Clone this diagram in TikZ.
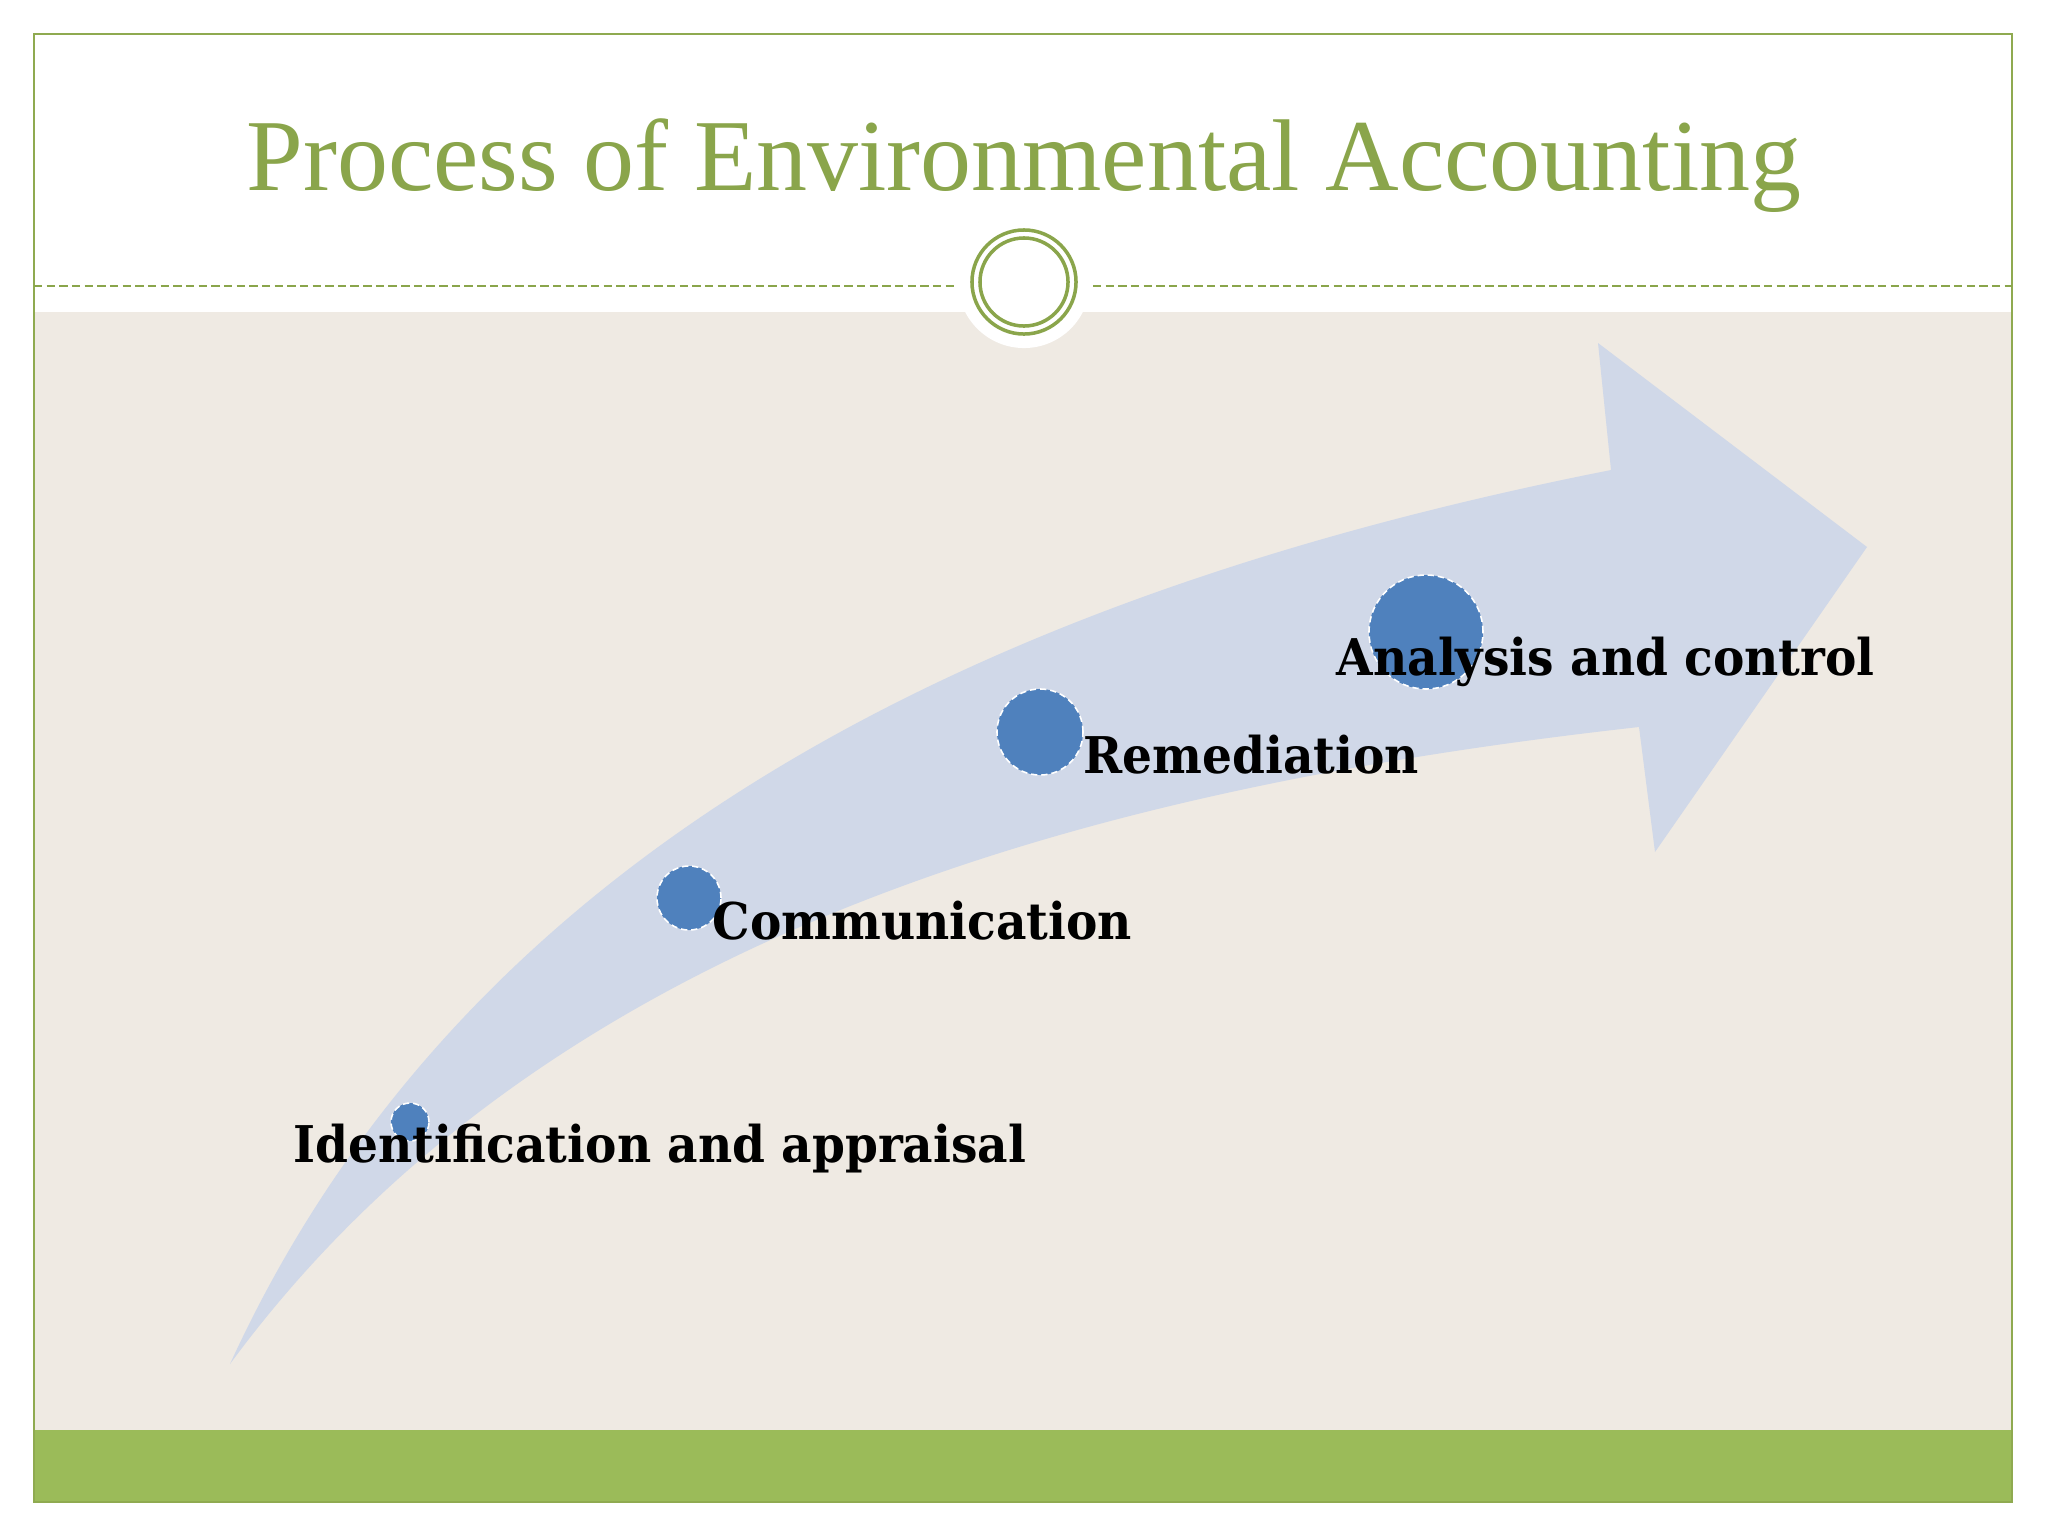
\documentclass[tikz,border=0pt]{standalone}
\usepackage{fontspec}
\setmainfont{Liberation Serif}
\newfontfamily\labfont[FakeStretch=0.93]{DejaVu Serif}
\definecolor{frame}{HTML}{8FAA50}
\definecolor{titlegreen}{HTML}{8AA54B}
\definecolor{tan}{HTML}{EFEAE3}
\definecolor{barg}{HTML}{9BBB59}
\definecolor{arrowfill}{HTML}{D0D8E8}
\definecolor{dotblue}{HTML}{4F81BD}
\tikzset{
  stepdot/.style={circle, fill=dotblue, draw=white, line width=0.45pt, dash pattern=on 1.8pt off 1.1pt, inner sep=0pt},
  lbl/.style={anchor=base west, inner sep=0pt, font=\labfont\bfseries\fontsize{14.4}{16}\selectfont, text=black},
}
\begin{document}
\begin{tikzpicture}[x=0.01cm,y=-0.01cm]
\useasboundingbox (0,0) rectangle (2048,1536);
\fill[white] (0,0) rectangle (2048,1536);
% tan content area and bottom bar
\fill[tan] (34,312) rectangle (2012,1430);
\fill[barg] (34,1430) rectangle (2012,1502);
% frame
\draw[frame, line width=0.6pt] (34,34) rectangle (2012,1502);
% dashed separator
\draw[titlegreen, line width=0.45pt, dash pattern=on 2.4pt off 1.2pt] (34,286) -- (955,286);
\draw[titlegreen, line width=0.45pt, dash pattern=on 2.4pt off 1.2pt] (1093,286) -- (2012,286);
% ornament
\node[circle, fill=white, minimum size=1.32cm, inner sep=0pt] (orn) at (1024,282) {};
\node[circle, draw=titlegreen, line width=1pt, minimum size=1.04cm, inner sep=0pt] (ornout) at (1024,282) {};
\node[circle, draw=titlegreen, line width=1pt, minimum size=0.88cm, inner sep=0pt] (ornin) at (1024,282) {};
% title
\node[anchor=base, inner sep=0pt, text=titlegreen, font=\fontsize{29}{34}\selectfont] (title) at (1024,190) {Process of Environmental Accounting};
% curved arrow
\coordinate (tail) at (230,1364);
\coordinate (sht) at (1611,470);
\coordinate (hdt) at (1598,343);
\coordinate (tip) at (1867,547);
\coordinate (hdb) at (1655,852);
\coordinate (shb) at (1639,727);
\fill[arrowfill] (tail) .. controls (463,855) and (973,596) .. (sht)
  -- (hdt) -- (tip) -- (hdb) -- (shb)
  .. controls (1102,787) and (550,929) .. (tail) -- cycle;
% step dots
\node[stepdot, minimum size=0.38cm] (c1) at (410,1122) {};
\node[stepdot, minimum size=0.64cm] (c2) at (689,898) {};
\node[stepdot, minimum size=0.86cm] (c3) at (1040,732) {};
\node[stepdot, minimum size=1.14cm] (c4) at (1426,632) {};
% labels
\node[lbl] (l1) at (293,1162) {Identification and appraisal};
\node[lbl] (l2) at (712,939) {Communication};
\node[lbl] (l3) at (1083,773) {Remediation};
\node[lbl] (l4) at (1336,675) {Analysis and control};
\end{tikzpicture}
\end{document}
